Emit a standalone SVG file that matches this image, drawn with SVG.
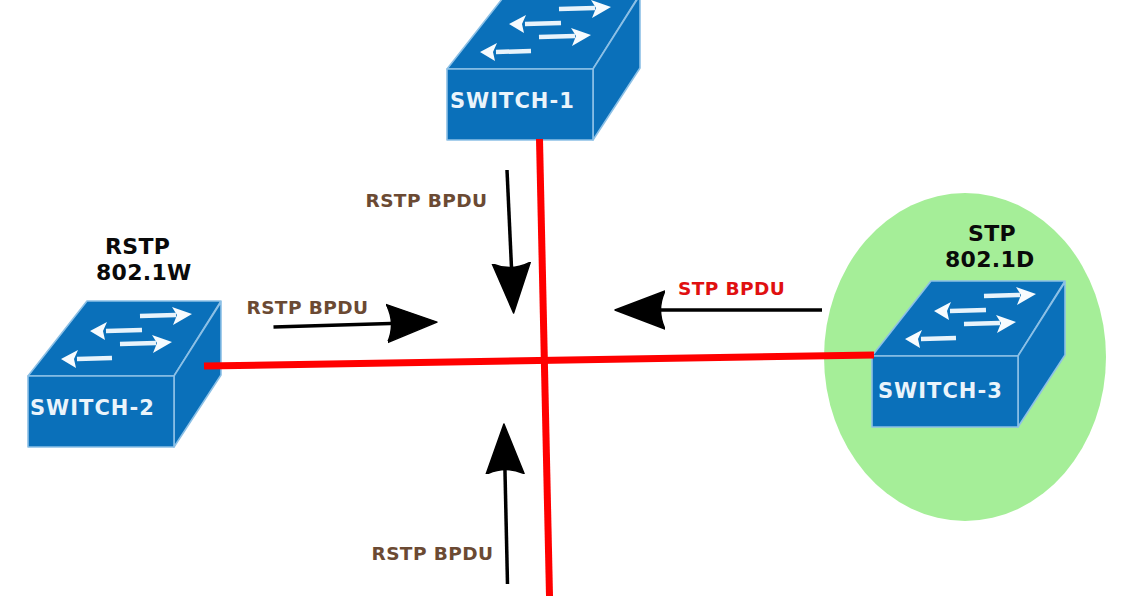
<svg xmlns="http://www.w3.org/2000/svg" width="1136" height="596" viewBox="0 0 1136 596">
<style>
text{font-family:"DejaVu Sans",sans-serif;font-weight:bold}
.sw{font-size:21px;letter-spacing:1px;fill:#eaf4fb}
.lb{font-size:22px;letter-spacing:.3px;fill:#0a0a0a}
.bp{font-size:18.5px;letter-spacing:.4px;fill:#6b4a33}
.red{stroke:#f00;stroke-width:7;fill:none}
.blk{stroke:#000;stroke-width:3.5;fill:none}
.body{fill:#0a70ba;stroke:#8cc0e6;stroke-width:1.6;stroke-linejoin:round}
.wa{stroke:#e8f3fb;stroke-width:4.5;fill:none}
.wh{fill:#f7fbfe}
</style>
<defs>
<g id="switch">
<path class="body" d="M28 376L87 301H221L174 376Z"/>
<path class="body" d="M174 376L221 302V375L174 447Z"/>
<rect class="body" x="28" y="376" width="146" height="71"/>
<path class="wa" d="M140 316L176 315"/><path class="wh" d="M172 307L192 314L173 325L177 315Z"/>
<path class="wa" d="M142 330L106 331"/><path class="wh" d="M107 322L90 331L105 340L103 331Z"/>
<path class="wa" d="M120 344L156 343"/><path class="wh" d="M152 335L172 342L153 353L157 343Z"/>
<path class="wa" d="M112 358L77 359"/><path class="wh" d="M78 350L61 359L76 368L74 359Z"/>
</g>
<marker id="ah" markerUnits="userSpaceOnUse" markerWidth="52" markerHeight="46" refX="20" refY="23" orient="auto">
<path d="M0 4L50 23L0 42Q9 23 0 4Z" fill="#000" stroke="#000" stroke-width="1.5" stroke-linejoin="round"/>
</marker>
</defs>
<g id="zone"><ellipse cx="965" cy="357" rx="141" ry="164" fill="#a5ee98"/></g>
<g id="switch-1"><use href="#switch" transform="translate(419,-307)"/><text class="sw" x="450" y="108">SWITCH-1</text></g>
<g id="switch-2"><use href="#switch"/><text class="sw" x="30" y="415">SWITCH-2</text>
<text class="lb" x="105" y="254">RSTP</text><text class="lb" x="96" y="280">802.1W</text></g>
<g id="switch-3"><use href="#switch" transform="translate(844,-20)"/><text class="sw" x="878" y="397.5">SWITCH-3</text>
<text class="lb" x="968" y="240.500">STP</text><text class="lb" x="945" y="267">802.1D</text></g>
<g id="connectors">
<path class="red" d="M539.500 139L549.500 596"/>
<path class="red" d="M204 366L874 355"/>
<path class="blk" d="M507 170L512.200 283" marker-end="url(#ah)"/>
<path class="blk" d="M273.500 327L407 323" marker-end="url(#ah)"/>
<path class="blk" d="M822 310L645 310" marker-end="url(#ah)"/>
<path class="blk" d="M507.500 584L504.600 454" marker-end="url(#ah)"/>
</g>
<g id="labels">
<text class="bp" x="365.500" y="206.500">RSTP BPDU</text>
<text class="bp" x="246.500" y="314">RSTP BPDU</text>
<text class="bp" x="371.500" y="560">RSTP BPDU</text>
<text class="bp" x="678" y="295" style="fill:#e01010">STP BPDU</text>
</g>
</svg>
